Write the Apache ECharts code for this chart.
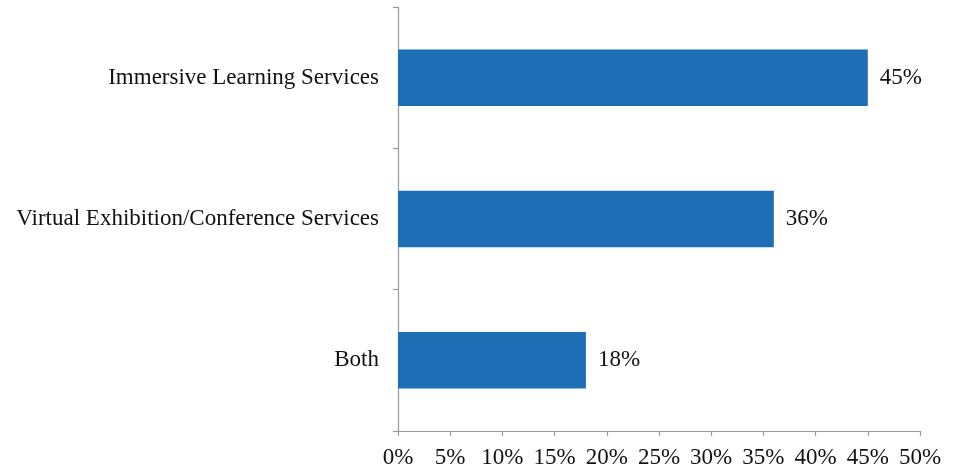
<!DOCTYPE html>
<html>
<head>
<meta charset="utf-8">
<script src="https://cdn.jsdelivr.net/npm/echarts@6/dist/echarts.min.js"></script>
<style>
html,body{margin:0;padding:0;background:#fff;}
#chart{width:967px;height:471px;}
</style>
</head>
<body>
<div id="chart"></div>
<script>
const categories = ["Immersive Learning Services", "Virtual Exhibition/Conference Services", "Both"];
const values = [45, 36, 18];
const xTicks = [0, 5, 10, 15, 20, 25, 30, 35, 40, 45, 50];

const chart = echarts.init(document.getElementById('chart'));
const font = '"Liberation Serif", "Times New Roman", serif';
chart.setOption({
  animation: false,
  backgroundColor: '#fff',
  grid: { left: 398, right: 47, top: 7, bottom: 40, containLabel: false },
  xAxis: {
    type: 'value',
    min: xTicks[0],
    max: xTicks[xTicks.length - 1],
    interval: 5,
    axisLine: { show: true, lineStyle: { color: '#9a9a9a', width: 1.2 } },
    axisTick: { show: true, length: 5, lineStyle: { color: '#9a9a9a', width: 1.2 } },
    splitLine: { show: false },
    axisLabel: { formatter: '{value}%', color: '#111', fontFamily: font, fontSize: 23, margin: 15 }
  },
  yAxis: {
    type: 'category',
    data: categories,
    inverse: true,
    axisLine: { show: true, lineStyle: { color: '#9a9a9a', width: 1.2 } },
    axisTick: { show: true, length: 5, lineStyle: { color: '#9a9a9a', width: 1.2 } },
    axisLabel: { color: '#111', fontFamily: font, fontSize: 23, margin: 19 }
  },
  series: [{
    type: 'bar',
    data: values,
    barWidth: '40%',
    itemStyle: { color: '#1F6FB6' },
    label: {
      show: true,
      position: 'right',
      distance: 12,
      formatter: '{c}%',
      color: '#111',
      fontFamily: font,
      fontSize: 23
    }
  }]
});
</script>
</body>
</html>
